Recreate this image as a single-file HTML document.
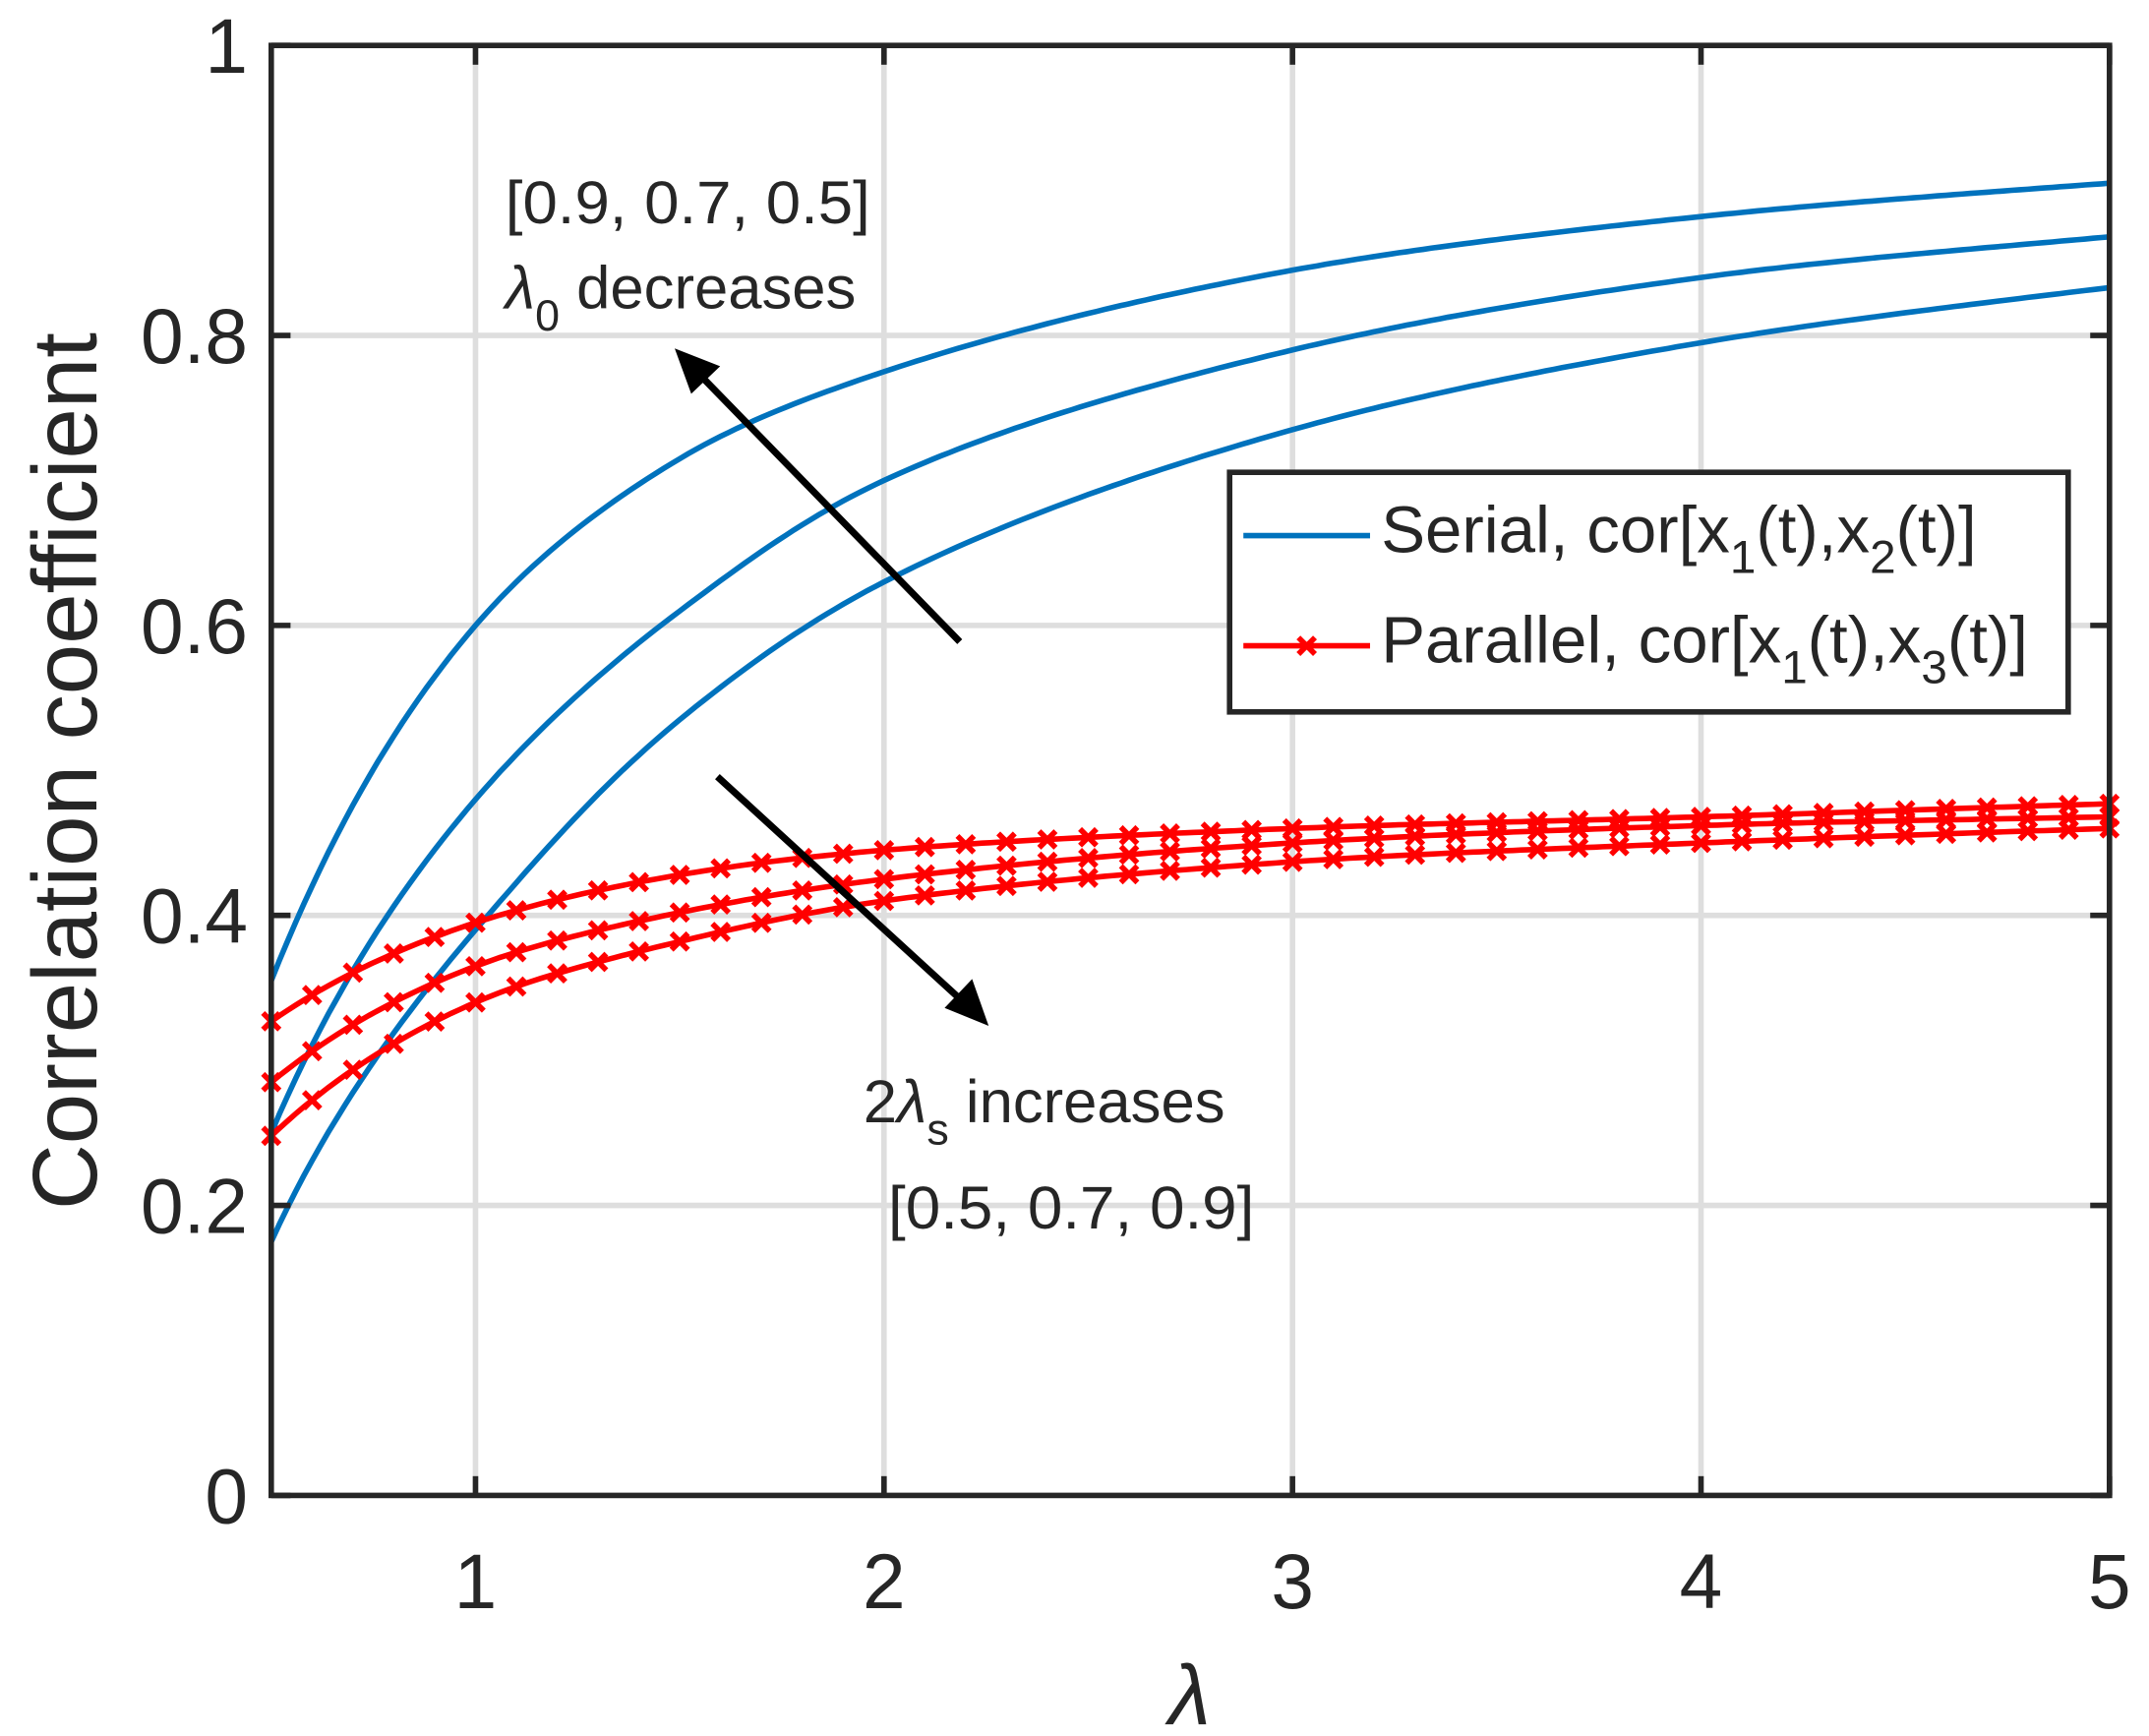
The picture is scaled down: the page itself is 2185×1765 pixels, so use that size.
<!DOCTYPE html>
<html><head><meta charset="utf-8"><style>
html,body{margin:0;padding:0;background:#fff}
svg{display:block}
text{font-family:"Liberation Sans",sans-serif;fill:#262626}
</style></head><body>
<svg id="s" width="2185" height="1765" viewBox="0 0 1560.7 1260.7" preserveAspectRatio="none" xmlns="http://www.w3.org/2000/svg">
<rect width="1560.7" height="1260.7" fill="#fff"/>
<g id="grid" stroke="#dedede" stroke-width="4"></g>
<g id="series"></g>
<g stroke="#262626" stroke-width="4" fill="none">
<rect x="197" y="33" width="1335" height="1053"/>
</g>
<g id="ticks" stroke="#262626" stroke-width="4"></g>
<g id="labels" font-size="56"></g>
<text x="0" y="0" font-size="66" transform="translate(70,560) rotate(-90)" text-anchor="middle">Correlation coefficient</text>
<text x="864" y="1252" font-size="62" font-style="italic" font-family="Liberation Serif" text-anchor="middle">λ</text>
<text x="367" y="162" font-size="44" textLength="265" lengthAdjust="spacingAndGlyphs">[0.9, 0.7, 0.5]</text>
<text x="367" y="224" font-size="44"><tspan font-style="italic">λ</tspan><tspan font-size="32" dy="16">0</tspan><tspan dy="-16"> decreases</tspan></text>
<line x1="697" y1="466" x2="510" y2="274" stroke="#000" stroke-width="5"/>
<polygon points="490,253 523,266 502,286" fill="#000"/>
<line x1="521" y1="564" x2="700" y2="728" stroke="#000" stroke-width="5"/>
<polygon points="718,745 686,732 706,711" fill="#000"/>
<text x="627" y="815" font-size="44"><tspan>2</tspan><tspan font-style="italic">λ</tspan><tspan font-size="32" dy="16">s</tspan><tspan dy="-16"> increases</tspan></text>
<text x="645" y="892" font-size="44" textLength="266" lengthAdjust="spacingAndGlyphs">[0.5, 0.7, 0.9]</text>
<rect x="893" y="343" width="609" height="174" fill="#fff" stroke="#262626" stroke-width="4"/>
<line x1="903" y1="389" x2="995" y2="389" stroke="#0072bd" stroke-width="4"/>
<text x="1003" y="401" font-size="48">Serial, cor[x<tspan font-size="34" dy="15">1</tspan><tspan dy="-15">(t),x</tspan><tspan font-size="34" dy="15">2</tspan><tspan dy="-15">(t)]</tspan></text>
<line x1="903" y1="469" x2="995" y2="469" stroke="#ff0000" stroke-width="4"/>
<g stroke="#ff0000" stroke-width="4"><line x1="943" y1="463" x2="955" y2="475"/><line x1="943" y1="475" x2="955" y2="463"/></g>
<text x="1003" y="481" font-size="48">Parallel, cor[x<tspan font-size="34" dy="15">1</tspan><tspan dy="-15">(t),x</tspan><tspan font-size="34" dy="15">3</tspan><tspan dy="-15">(t)]</tspan></text>
</svg>
<script>
const NS="http://www.w3.org/2000/svg";
const X=v=>197+(v-0.5)*296.67, Y=v=>1086-v*1053;
function el(p,t,a){const e=document.createElementNS(NS,t);for(const k in a)e.setAttribute(k,a[k]);p.appendChild(e);return e;}
const g=document.getElementById('grid'),tk=document.getElementById('ticks'),lb=document.getElementById('labels');
for(let i=1;i<=4;i++){el(g,'line',{x1:X(i),x2:X(i),y1:33,y2:1086});}
for(let i=1;i<=4;i++){el(g,'line',{x1:197,x2:1532,y1:Y(i*0.2),y2:Y(i*0.2)});}
for(let i=1;i<=5;i++){el(tk,'line',{x1:X(i),x2:X(i),y1:1086,y2:1072});el(tk,'line',{x1:X(i),x2:X(i),y1:33,y2:47});
 const t=el(lb,'text',{x:X(i),y:1168,'text-anchor':'middle'});t.textContent=i;}
for(let i=0;i<=5;i++){const v=i*0.2;el(tk,'line',{x1:197,x2:211,y1:Y(v),y2:Y(v)});el(tk,'line',{x1:1532,x2:1518,y1:Y(v),y2:Y(v)});
 const t=el(lb,'text',{x:180,y:Y(v)+20,'text-anchor':'end'});t.textContent=(i==0?'0':i==5?'1':v.toFixed(1));}
const xs=[0.5,1,1.5,2,3,4,5];
const us=xs.map(Math.log);
const blue=[[0.355,0.60,0.715,0.775,0.845,0.882,0.905],[0.25,0.48,0.61,0.70,0.79,0.84,0.868],[0.175,0.39,0.535,0.63,0.735,0.795,0.833]];
const red=[[0.327,0.395,0.428,0.445,0.46,0.468,0.477],[0.285,0.365,0.402,0.425,0.45,0.462,0.468],[0.248,0.34,0.382,0.41,0.437,0.45,0.46]];
function interp(ys,x){const u=Math.log(x);let i=0;while(i<us.length-2&&u>us[i+1])i++;
 const h=us[i+1]-us[i],t=(u-us[i])/h;
 const m=k=>{if(k==0)return (ys[1]-ys[0])/(us[1]-us[0]);if(k==us.length-1)return (ys[k]-ys[k-1])/(us[k]-us[k-1]);return (ys[k+1]-ys[k-1])/(us[k+1]-us[k-1]);};
 const t2=t*t,t3=t2*t;
 return (2*t3-3*t2+1)*ys[i]+(t3-2*t2+t)*h*m(i)+(-2*t3+3*t2)*ys[i+1]+(t3-t2)*h*m(i+1);}
const S=document.getElementById('series');
function curve(ys,col){let d='';for(let x=0.5;x<=5.0001;x+=0.02){d+=(d?'L':'M')+X(x).toFixed(1)+','+Y(interp(ys,x)).toFixed(1);}
 el(S,'path',{d:d,fill:'none',stroke:col,'stroke-width':4});}
blue.forEach(b=>curve(b,'#0072bd'));
red.forEach(r=>{curve(r,'#ff0000');for(let x=0.5;x<=5.0001;x+=0.1){const px=X(x),py=Y(interp(r,x));
 el(S,'path',{d:`M${px-6},${py-6}L${px+6},${py+6}M${px-6},${py+6}L${px+6},${py-6}`,stroke:'#ff0000','stroke-width':4});}});
</script>
</body></html>
